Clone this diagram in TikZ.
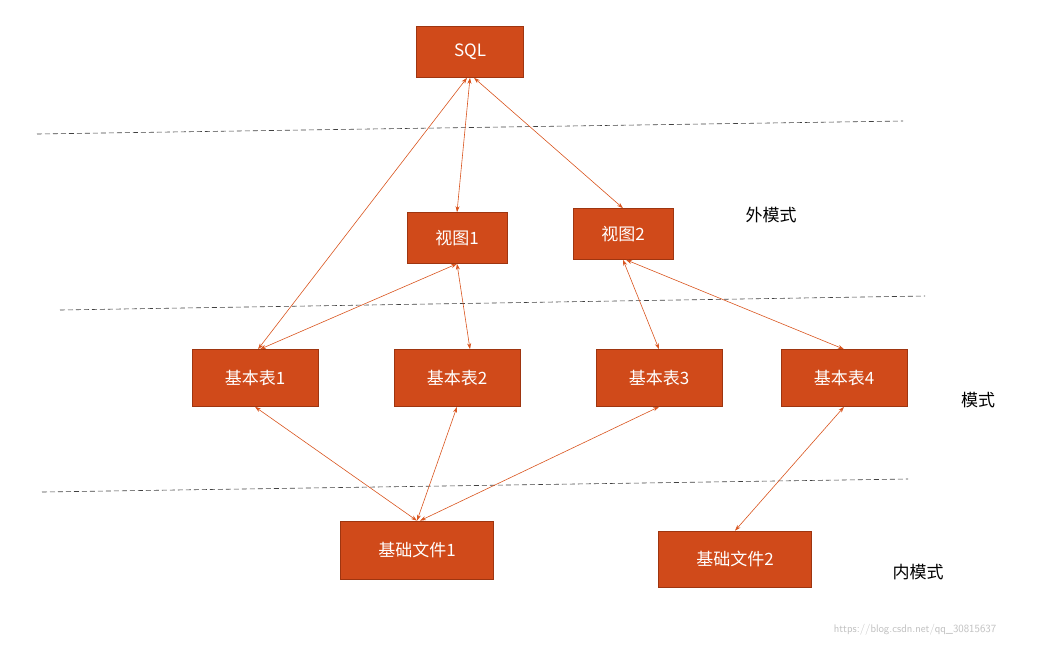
\documentclass[tikz,border=0pt]{standalone}
\usepackage{fontspec}
\newfontfamily\cjk{Noto Sans CJK SC}
\usetikzlibrary{arrows.meta}
\definecolor{boxfill}{HTML}{D04A1A}
\definecolor{boxedge}{HTML}{9E3510}
\definecolor{arr}{HTML}{D9541E}
\begin{document}
\begin{tikzpicture}[x=1pt,y=-1pt,
  box/.style={draw=boxedge,fill=boxfill,text=white,font=\cjk\fontsize{17}{17}\selectfont,inner sep=0pt,line width=0.6pt},
  lbl/.style={font=\cjk\fontsize{17}{17}\selectfont},
  con/.style={draw=arr,line width=0.6pt,{Stealth[length=6pt,width=4pt]}-{Stealth[length=6pt,width=4pt]}},
  sep line/.style={draw=black!75,line width=0.6pt,dash pattern=on 5pt off 3pt}]
\useasboundingbox (0,0) rectangle (1046,649);
\node[box,minimum width=107,minimum height=51] (sql) at (470,52) {SQL};
\node[box,minimum width=100,minimum height=51] (v1) at (457,238) {视图1};
\node[box,minimum width=100,minimum height=51] (v2) at (623,234) {视图2};
\node[box,minimum width=126,minimum height=57] (t1) at (255,378) {基本表1};
\node[box,minimum width=126,minimum height=57] (t2) at (457,378) {基本表2};
\node[box,minimum width=126,minimum height=57] (t3) at (659,378) {基本表3};
\node[box,minimum width=126,minimum height=57] (t4) at (844,378) {基本表4};
\node[box,minimum width=153,minimum height=58] (f1) at (417,550) {基础文件1};
\node[box,minimum width=153,minimum height=56] (f2) at (735,559) {基础文件2};
\node[lbl] (l1) at (771,215) {外模式};
\node[lbl] (l2) at (978,400) {模式};
\node[lbl] (l3) at (918,572) {内模式};
\node[font=\sffamily\fontsize{11}{11}\selectfont,text=black!25] (wm) at (915,630) {https://blog.csdn.net/qq\_30815637};
\coordinate (d1a) at (37,134); \coordinate (d1b) at (903,121);
\coordinate (d2a) at (60,310); \coordinate (d2b) at (925,296);
\coordinate (d3a) at (42,492); \coordinate (d3b) at (908,479);
\draw[sep line] (d1a) -- (d1b);
\draw[sep line] (d2a) -- (d2b);
\draw[sep line] (d3a) -- (d3b);
\draw[con] ([xshift=-3]sql.south) -- ([xshift=3]t1.north);
\draw[con] (sql.south) -- (v1.north);
\draw[con] ([xshift=4]sql.south) -- (v2.north);
\draw[con] (v1.south) -- ([xshift=5]t1.north);
\draw[con] (v1.south) -- ([xshift=13]t2.north);
\draw[con] (v2.south) -- (t3.north);
\draw[con] ([xshift=3]v2.south) -- (t4.north);
\draw[con] (t1.south) -- (f1.north);
\draw[con] (t2.south) -- (f1.north);
\draw[con] (t3.south) -- ([xshift=3]f1.north);
\draw[con] (t4.south) -- (f2.north);
\end{tikzpicture}
\end{document}
